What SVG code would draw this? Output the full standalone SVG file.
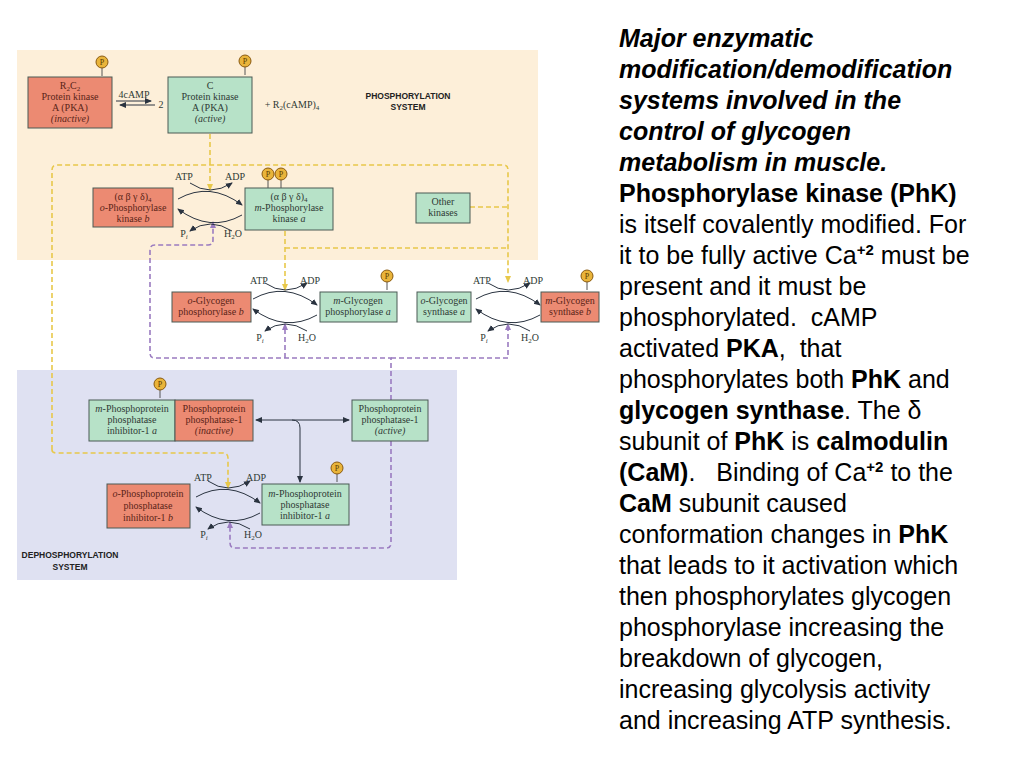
<svg xmlns="http://www.w3.org/2000/svg" width="1024" height="768" viewBox="0 0 1024 768">
<defs>
<marker id="ah" markerWidth="8" markerHeight="8" refX="6" refY="4" orient="auto" markerUnits="userSpaceOnUse"><path d="M0,1 L7,4 L0,7 z" fill="#2a3340"/></marker>
<marker id="ahs" markerWidth="8" markerHeight="8" refX="1" refY="4" orient="auto" markerUnits="userSpaceOnUse"><path d="M7,1 L0,4 L7,7 z" fill="#2a3340"/></marker>
<marker id="ay" markerWidth="8" markerHeight="8" refX="6" refY="4" orient="auto" markerUnits="userSpaceOnUse"><path d="M0,1 L7,4 L0,7 z" fill="#e8c84a"/></marker>
<marker id="ap" markerWidth="8" markerHeight="8" refX="6" refY="4" orient="auto" markerUnits="userSpaceOnUse"><path d="M0,1 L7,4 L0,7 z" fill="#9a7bc0"/></marker>
<g id="cyc">
<path d="M-32,-8 Q0,-26 32,-2" marker-end="url(#ah)"/>
<path d="M-20,-24 Q0,-10 22,-24" marker-end="url(#ah)"/>
<path d="M32,8 Q0,26 -32,2" marker-end="url(#ah)"/>
<path d="M22,24 Q0,10 -20,24" marker-end="url(#ah)"/>
</g>
<g id="pp"><line x1="0" y1="0" x2="0" y2="14" stroke="#555" stroke-width="1"/><circle cx="0" cy="0" r="6" fill="#e9b43a" stroke="#8a5a10" stroke-width="1"/><text x="0" y="3" class="pl">P</text></g>
</defs>
<style>
.b{stroke:#4a5a55;stroke-width:1}
.s{fill:#ec8a72}
.g{fill:#b7e2c8}
.t{font-family:"Liberation Serif",serif;font-size:10px;fill:#2f3a35;text-anchor:middle}
.sr{fill:#5a2418}
.i{font-style:italic}
.pl{font-family:"Liberation Serif",serif;font-size:8px;text-anchor:middle;fill:#5a3a00}
.h{font-family:"Liberation Sans",sans-serif;font-size:8.5px;font-weight:bold;fill:#222;text-anchor:middle}
#cyc path{fill:none;stroke:#2a3340;stroke-width:1}
.dy{fill:none;stroke:#e8c84a;stroke-width:1.6;stroke-dasharray:5,3}
.dp{fill:none;stroke:#9a7bc0;stroke-width:1.6;stroke-dasharray:5,3}
.r{font-family:"Liberation Sans",Arial,sans-serif;font-size:25px;fill:#000}
</style>
<rect width="1024" height="768" fill="#fff"/>
<rect x="17" y="50" width="521" height="210" fill="#fdefd9"/>
<rect x="17" y="370" width="440" height="210" fill="#dfe1f2"/>
<text class="h" x="408" y="99">PHOSPHORYLATION</text><text class="h" x="408" y="110">SYSTEM</text>
<text class="h" x="70" y="558">DEPHOSPHORYLATION</text><text class="h" x="70" y="570">SYSTEM</text>

<g id="connectors">
<path class="dy" d="M210,134 V160 M52,450 V170 Q52,165 57,165 H503 Q508,165 508,170 V282" marker-end="url(#ay)"/>
<path class="dy" d="M210,160 V190" marker-end="url(#ay)"/>
<path class="dy" d="M52,450 Q52,453 57,453 H223 Q228,453 228,458 V488" marker-end="url(#ay)"/>
<path class="dy" d="M470,207 H508"/>
<path class="dy" d="M285,231 V290" marker-end="url(#ay)"/>
<path class="dy" d="M285,248 H508"/>
<path class="dp" d="M391,400 V358 H155 Q150,358 150,353 V250 Q150,245 155,245 H208 Q213,245 213,240 V222" marker-end="url(#ap)"/>
<path class="dp" d="M285,358 V324" marker-end="url(#ap)"/>
<path class="dp" d="M391,358 H508 V324" marker-end="url(#ap)"/>
<path class="dp" d="M391,441 V543 Q391,548 386,548 H235 Q230,548 230,543 V522" marker-end="url(#ap)"/>
<path d="M256,420 H349" fill="none" stroke="#2a3340" stroke-width="1" marker-start="url(#ahs)" marker-end="url(#ah)"/>
<path d="M292,420 Q300,420 300,428 V482" fill="none" stroke="#2a3340" stroke-width="1" marker-end="url(#ah)"/>
<path d="M116,101 H151" stroke="#2a3340" stroke-width="1" fill="none" marker-end="url(#ah)"/>
<path d="M155,105 H120" stroke="#2a3340" stroke-width="1" fill="none" marker-end="url(#ah)"/>
<text class="t" x="134" y="98">4cAMP</text><text class="t" x="161" y="108">2</text>
<text class="t" x="292" y="108">+ R<tspan font-size="7" dy="2">2</tspan><tspan dy="-2">(cAMP)</tspan><tspan font-size="7" dy="2">4</tspan></text>
</g>

<g id="cycles">
<use href="#cyc" x="210" y="207"/><use href="#cyc" x="285" y="307"/><use href="#cyc" x="508" y="307"/><use href="#cyc" x="228" y="505"/>
<g class="t"><text x="184" y="180">ATP</text><text x="235" y="180">ADP</text><text x="184" y="237">P<tspan font-size="7" dy="2" class="i">i</tspan></text><text x="233" y="237">H<tspan font-size="7" dy="2">2</tspan><tspan dy="-2">O</tspan></text></g>
<g class="t"><text x="259" y="284">ATP</text><text x="310" y="284">ADP</text><text x="260" y="341">P<tspan font-size="7" dy="2" class="i">i</tspan></text><text x="307" y="341">H<tspan font-size="7" dy="2">2</tspan><tspan dy="-2">O</tspan></text></g>
<g class="t"><text x="482" y="284">ATP</text><text x="533" y="284">ADP</text><text x="484" y="341">P<tspan font-size="7" dy="2" class="i">i</tspan></text><text x="530" y="341">H<tspan font-size="7" dy="2">2</tspan><tspan dy="-2">O</tspan></text></g>
<g class="t"><text x="203" y="481">ATP</text><text x="256" y="481">ADP</text><text x="204" y="538">P<tspan font-size="7" dy="2" class="i">i</tspan></text><text x="253" y="538">H<tspan font-size="7" dy="2">2</tspan><tspan dy="-2">O</tspan></text></g>
</g>

<g id="pka-inactive"><use href="#pp" x="102" y="62"/><rect class="s b" x="28" y="77" width="84" height="51"/>
<g class="t sr"><text x="70" y="89">R<tspan font-size="7" dy="2">2</tspan><tspan dy="-2">C</tspan><tspan font-size="7" dy="2">2</tspan></text><text x="70" y="100">Protein kinase</text><text x="70" y="111">A (PKA)</text><text class="i" x="70" y="122">(inactive)</text></g></g>
<g id="pka-active"><use href="#pp" x="245" y="61"/><rect class="g b" x="168" y="77" width="84" height="56"/>
<text class="t" x="210" y="89">C</text><text class="t" x="210" y="100">Protein kinase</text><text class="t" x="210" y="111">A (PKA)</text><text class="t i" x="210" y="122">(active)</text></g>
<g id="phk-b"><rect class="s b" x="93" y="188" width="80" height="39"/>
<g class="t sr"><text x="133" y="200">(α β γ δ)<tspan font-size="7" dy="2">4</tspan></text><text x="133" y="211"><tspan class="i">o</tspan>-Phosphorylase</text><text x="133" y="222">kinase <tspan class="i">b</tspan></text></g></g>
<g id="phk-a"><use href="#pp" x="268" y="174"/><use href="#pp" x="281" y="174"/><rect class="g b" x="245" y="188" width="88" height="42"/>
<text class="t" x="289" y="200">(α β γ δ)<tspan font-size="7" dy="2">4</tspan></text><text class="t" x="289" y="211"><tspan class="i">m</tspan>-Phosphorylase</text><text class="t" x="289" y="222">kinase <tspan class="i">a</tspan></text></g>
<g id="other-kinases"><rect class="g b" x="416" y="193" width="54" height="30"/><text class="t" x="443" y="205">Other</text><text class="t" x="443" y="216">kinases</text></g>
<g id="gp-b"><rect class="s b" x="172" y="292" width="79" height="30"/><g class="t sr"><text x="211" y="304"><tspan class="i">o</tspan>-Glycogen</text><text x="211" y="315">phosphorylase <tspan class="i">b</tspan></text></g></g>
<g id="gp-a"><use href="#pp" x="387" y="276"/><rect class="g b" x="320" y="292" width="77" height="30"/><text class="t" x="358" y="304"><tspan class="i">m</tspan>-Glycogen</text><text class="t" x="358" y="315">phosphorylase <tspan class="i">a</tspan></text></g>
<g id="gs-a"><rect class="g b" x="417" y="292" width="54" height="30"/><text class="t" x="444" y="304"><tspan class="i">o</tspan>-Glycogen</text><text class="t" x="444" y="315">synthase <tspan class="i">a</tspan></text></g>
<g id="gs-b"><use href="#pp" x="587" y="276"/><rect class="s b" x="541" y="292" width="58" height="30"/><g class="t sr"><text x="570" y="304"><tspan class="i">m</tspan>-Glycogen</text><text x="570" y="315">synthase <tspan class="i">b</tspan></text></g></g>
<g id="inh-pp1"><use href="#pp" x="160" y="384"/><rect class="g b" x="89" y="400" width="86" height="41"/><rect class="s b" x="175" y="400" width="78" height="41"/>
<text class="t" x="132" y="412"><tspan class="i">m</tspan>-Phosphoprotein</text><text class="t" x="132" y="423">phosphatase</text><text class="t" x="132" y="434">inhibitor-1 <tspan class="i">a</tspan></text>
<g class="t sr"><text x="214" y="412">Phosphoprotein</text><text x="214" y="423">phosphatase-1</text><text class="i" x="214" y="434">(inactive)</text></g></g>
<g id="pp1-active"><rect class="g b" x="352" y="400" width="76" height="41"/><text class="t" x="390" y="412">Phosphoprotein</text><text class="t" x="390" y="423">phosphatase-1</text><text class="t i" x="390" y="434">(active)</text></g>
<g id="inh-b"><rect class="s b" x="107" y="484" width="83" height="44"/><g class="t sr"><text x="148" y="497"><tspan class="i">o</tspan>-Phosphoprotein</text><text x="148" y="509">phosphatase</text><text x="148" y="521">inhibitor-1 <tspan class="i">b</tspan></text></g></g>
<g id="inh-a"><use href="#pp" x="337" y="468"/><rect class="g b" x="262" y="484" width="87" height="41"/><text class="t" x="305" y="497"><tspan class="i">m</tspan>-Phosphoprotein</text><text class="t" x="305" y="508">phosphatase</text><text class="t" x="305" y="519">inhibitor-1 <tspan class="i">a</tspan></text></g>

<g id="caption" class="r">
<g font-weight="bold" font-style="italic"><text x="619" y="47">Major enzymatic</text><text x="619" y="78">modification/demodification</text><text x="619" y="109">systems involved in the</text><text x="619" y="140">control of glycogen</text><text x="619" y="171">metabolism in muscle.</text></g>
<text x="619" y="202" font-weight="bold">Phosphorylase kinase (PhK)</text>
<text x="619" y="233">is itself covalently modified. For</text>
<text x="619" y="264">it to be fully active Ca<tspan font-size="15" font-weight="bold" dy="-9">+2</tspan><tspan dy="9"> must be</tspan></text>
<text x="619" y="295">present and it must be</text>
<text x="619" y="326" xml:space="preserve">phosphorylated.  cAMP</text>
<text x="619" y="357" xml:space="preserve">activated <tspan font-weight="bold">PKA</tspan>,  that</text>
<text x="619" y="388">phosphorylates both <tspan font-weight="bold">PhK</tspan> and</text>
<text x="619" y="419"><tspan font-weight="bold">glycogen synthase</tspan>.  The δ</text>
<text x="619" y="450">subunit of <tspan font-weight="bold">PhK</tspan> is <tspan font-weight="bold">calmodulin</tspan></text>
<text x="619" y="481" xml:space="preserve"><tspan font-weight="bold">(CaM)</tspan>.   Binding of Ca<tspan font-size="15" font-weight="bold" dy="-9">+2</tspan><tspan dy="9"> to the</tspan></text>
<text x="619" y="512"><tspan font-weight="bold">CaM</tspan> subunit caused</text>
<text x="619" y="543">conformation changes in <tspan font-weight="bold">PhK</tspan></text>
<text x="619" y="574">that leads to it activation which</text>
<text x="619" y="605">then phosphorylates glycogen</text>
<text x="619" y="636">phosphorylase increasing the</text>
<text x="619" y="667">breakdown of glycogen,</text>
<text x="619" y="698">increasing glycolysis activity</text>
<text x="619" y="729">and increasing ATP synthesis.</text>
</g>
</svg>
